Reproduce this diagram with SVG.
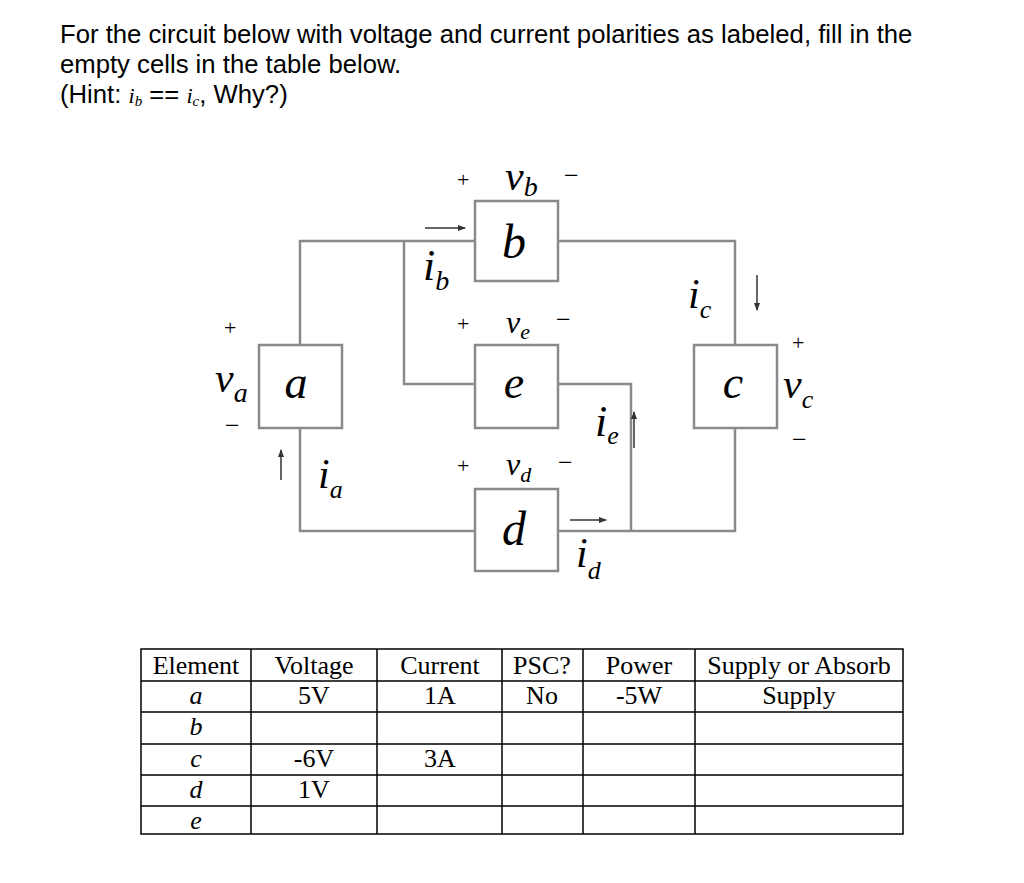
<svg xmlns="http://www.w3.org/2000/svg" width="1024" height="883" viewBox="0 0 1024 883">
<style>
.w{stroke:#8a8a8a;stroke-width:2.5;fill:none}
.bx{stroke:#8a8a8a;stroke-width:2.5;fill:#fff}
.ar{stroke:#333;stroke-width:1.5;fill:none}
.h{font-family:"Liberation Sans",Arial,sans-serif;font-size:25.7px;fill:#000}
.s{font-family:"Liberation Serif","Times New Roman",serif;fill:#000}
.i{font-family:"Liberation Serif","Times New Roman",serif;font-style:italic;fill:#000}
.t{font-family:"Liberation Serif","Times New Roman",serif;font-size:26px;fill:#000;text-anchor:middle}
.g{stroke:#000;stroke-width:1.5}
</style>
<defs><marker id="m" markerWidth="8" markerHeight="8" refX="7" refY="4" orient="auto" markerUnits="userSpaceOnUse"><path d="M0,1 L8,4 L0,7 Z" fill="#333"/></marker></defs>
<rect width="1024" height="883" fill="#fff"/>
<text class="h" x="60" y="43">For the circuit below with voltage and current polarities as labeled, fill in the</text>
<text class="h" x="60" y="73">empty cells in the table below.</text>
<text class="h" x="60" y="103">(Hint: <tspan class="i" font-size="22">i</tspan><tspan class="i" font-size="15" dy="3">b</tspan><tspan dy="-3"> == </tspan><tspan class="i" font-size="22">i</tspan><tspan class="i" font-size="15" dy="3">c</tspan><tspan dy="-3">, Why?)</tspan></text>
<g id="connectors">
<path class="w" d="M300,345 V241 H475 M558,241 H735 V345 M300,428 V531 H475 M558,531 H735 V428 M404,241 V384 H475 M558,384 H631 V531"/>
<path class="ar" d="M425,228 H465" marker-end="url(#m)"/>
<path class="ar" d="M757,275 V310" marker-end="url(#m)"/>
<path class="ar" d="M634,448 V412" marker-end="url(#m)"/>
<path class="ar" d="M281,480 V450" marker-end="url(#m)"/>
<path class="ar" d="M570,520 H606" marker-end="url(#m)"/>
</g>
<g id="node-b"><rect class="bx" x="475" y="201" width="83" height="80"/><text class="i" x="514" y="258" font-size="48" text-anchor="middle">b</text></g>
<g id="node-a"><rect class="bx" x="259" y="345" width="83" height="83"/><text class="i" x="296" y="398" font-size="46" text-anchor="middle">a</text></g>
<g id="node-e"><rect class="bx" x="475" y="345" width="83" height="83"/><text class="i" x="514" y="398" font-size="46" text-anchor="middle">e</text></g>
<g id="node-c"><rect class="bx" x="694" y="345" width="83" height="83"/><text class="i" x="733" y="398" font-size="46" text-anchor="middle">c</text></g>
<g id="node-d"><rect class="bx" x="475" y="489" width="83" height="82"/><text class="i" x="514" y="545" font-size="48" text-anchor="middle">d</text></g>
<g id="labels">
<text class="s" x="457" y="187" font-size="22">+</text><text class="i" x="505" y="190" font-size="42">v<tspan font-size="28" dy="6">b</tspan></text><text class="s" x="564" y="184" font-size="26">−</text>
<text class="i" x="423" y="280" font-size="44">i<tspan font-size="28" dy="10">b</tspan></text>
<text class="s" x="457" y="331" font-size="22">+</text><text class="i" x="506" y="333" font-size="32">v<tspan font-size="22" dy="6">e</tspan></text><text class="s" x="556" y="328" font-size="26">−</text>
<text class="s" x="224" y="335" font-size="22">+</text><text class="i" x="215" y="392" font-size="42">v<tspan font-size="28" dy="10">a</tspan></text><text class="s" x="225" y="434" font-size="26">−</text>
<text class="i" x="688" y="308" font-size="42">i<tspan font-size="26" dy="10">c</tspan></text>
<text class="s" x="792" y="350" font-size="22">+</text><text class="i" x="783" y="398" font-size="42">v<tspan font-size="26" dy="10">c</tspan></text><text class="s" x="792" y="448" font-size="26">−</text>
<text class="i" x="595" y="436" font-size="44">i<tspan font-size="26" dy="8">e</tspan></text>
<text class="s" x="457" y="473" font-size="22">+</text><text class="i" x="506" y="475" font-size="32">v<tspan font-size="22" dy="7">d</tspan></text><text class="s" x="558" y="471" font-size="26">−</text>
<text class="i" x="318" y="488" font-size="42">i<tspan font-size="26" dy="10">a</tspan></text>
<text class="i" x="576" y="567" font-size="42">i<tspan font-size="26" dy="12">d</tspan></text>
</g>
<g id="table">
<rect x="141" y="649" width="762" height="185" fill="none" class="g"/>
<path class="g" d="M141,681 H903 M141,712 H903 M141,744 H903 M141,775 H903 M141,806 H903 M251,649 V834 M377,649 V834 M502,649 V834 M583,649 V834 M695,649 V834"/>
<text class="t" x="196" y="674">Element</text><text class="t" x="314" y="674">Voltage</text><text class="t" x="440" y="674">Current</text><text class="t" x="542" y="674">PSC?</text><text class="t" x="639" y="674">Power</text><text class="t" x="799" y="674">Supply or Absorb</text>
<text class="t" x="196" y="704" font-style="italic">a</text><text class="t" x="314" y="704">5V</text><text class="t" x="440" y="704">1A</text><text class="t" x="542" y="704">No</text><text class="t" x="639" y="704">-5W</text><text class="t" x="799" y="704">Supply</text>
<text class="t" x="196" y="735" font-style="italic">b</text>
<text class="t" x="196" y="767" font-style="italic">c</text><text class="t" x="314" y="767">-6V</text><text class="t" x="440" y="767">3A</text>
<text class="t" x="196" y="798" font-style="italic">d</text><text class="t" x="314" y="798">1V</text>
<text class="t" x="196" y="829" font-style="italic">e</text>
</g>
</svg>
